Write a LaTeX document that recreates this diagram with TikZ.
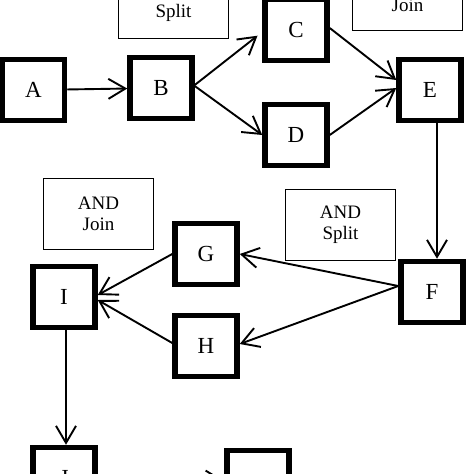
\documentclass[tikz,border=0pt]{standalone}
\usepackage{fontspec}
\setmainfont{Liberation Serif}
\usetikzlibrary{arrows.meta}
\begin{document}
\begin{tikzpicture}[x=1pt,y=-1pt]
        \tikzstyle{task}=[draw, line width=5.5pt, minimum width=62pt, minimum height=61pt, inner sep=0pt, font=\fontsize{23}{26}\selectfont]
        \tikzstyle{gate}=[draw, line width=0.8pt, minimum width=110pt, minimum height=71pt, inner sep=0pt, align=center, font=\fontsize{19}{21}\selectfont]
        \tikzstyle{flow}=[line width=1.9pt, -{Straight Barb[length=17pt,width=20pt]}]
        \useasboundingbox (0,0) rectangle (474,474);
        \clip (0,0) rectangle (474,474);
        % gateway notes
        \node[gate] (orsplit) at (173.5,3) {\phantom{X}\\Split};
        \node[gate] (orjoin) at (407.5,-5) {\phantom{X}\\Join};
        \node[gate] (andsplit) at (340.5,225) {AND\\Split};
        \node[gate] (andjoin) at (98.5,213.5) {AND\\Join};
        % tasks
        \node[task] (A) at (33.5,90) {A};
        \node[task] (B) at (161,88) {B};
        \node[task] (C) at (296,30) {C};
        \node[task] (D) at (296,135) {D};
        \node[task] (E) at (430,90) {E};
        \node[task] (F) at (432,292) {F};
        \node[task] (G) at (206,254) {G};
        \node[task] (H) at (206,346) {H};
        \node[task] (I) at (64,297) {I};
        \node[task] (J) at (64,478) {J};
        \node[task] (K) at (258,481) {};
        % flows
        \draw[flow] (A) -- (B);
        \draw[flow, shorten >=6pt] ([yshift=3pt]B.east) -- ([yshift=-2pt]C.west);
        \draw[flow] ([yshift=2pt]B.east) -- (D.west);
        \draw[flow] ([yshift=2pt]C.east) -- ([yshift=10pt]E.west);
        \draw[flow] (D.east) -- ([yshift=2pt]E.west);
        \draw[flow] ([xshift=7pt]E.south) -- ([xshift=7pt]E.south |- F.north);
        \draw[flow] ([yshift=6pt]F.west) -- (G.east);
        \draw[flow] ([yshift=6pt]F.west) -- ([yshift=2pt]H.east);
        \draw[flow] (G.west) -- ([yshift=2pt]I.east);
        \draw[flow] ([yshift=3pt]H.west) -- ([yshift=-3pt]I.east);
        \draw[flow] ([xshift=2pt]I.south) -- ([xshift=2pt]J.north);
        \draw[flow] (J.east) -- (K.west);
\end{tikzpicture}
\end{document}
